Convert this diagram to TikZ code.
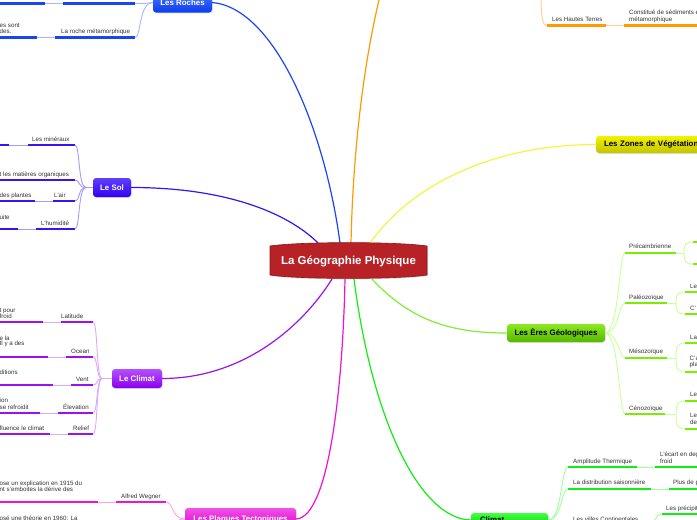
\documentclass[tikz,border=0pt]{standalone}
\usepackage{fontspec}
\setmainfont{Liberation Sans}
\usetikzlibrary{shadows}
\definecolor{txt}{HTML}{333333}
\definecolor{geoRed}{HTML}{B72227}
\definecolor{geoRedD}{HTML}{8E1418}
\definecolor{rochesA}{HTML}{4A78FF}
\definecolor{rochesB}{HTML}{0B3BEE}
\definecolor{rochesL}{HTML}{1A46F2}
\definecolor{rochesT}{HTML}{A3B8FF}
\definecolor{orng}{HTML}{FF9A00}
\definecolor{orngT}{HTML}{FFD08A}
\definecolor{yelA}{HTML}{F2F200}
\definecolor{yelB}{HTML}{C4C400}
\definecolor{yelL}{HTML}{F5F540}
\definecolor{solA}{HTML}{5E40FF}
\definecolor{solB}{HTML}{3300EE}
\definecolor{solL}{HTML}{3C12F4}
\definecolor{solT}{HTML}{A898FF}
\definecolor{cliA}{HTML}{B450FF}
\definecolor{cliB}{HTML}{8A00EE}
\definecolor{cliL}{HTML}{9A12F2}
\definecolor{cliT}{HTML}{D9A8FF}
\definecolor{plqA}{HTML}{F450E8}
\definecolor{plqB}{HTML}{D200C4}
\definecolor{plqL}{HTML}{EE12D6}
\definecolor{plqT}{HTML}{FFA0F0}
\definecolor{grnA}{HTML}{44FF44}
\definecolor{grnB}{HTML}{00D800}
\definecolor{grnL}{HTML}{11EE11}
\definecolor{grnT}{HTML}{A0FFA0}
\definecolor{erA}{HTML}{8CE820}
\definecolor{erB}{HTML}{55B800}
\definecolor{erL}{HTML}{7AEE00}
\definecolor{erM}{HTML}{80EE33}
\definecolor{erT}{HTML}{CCFF99}
\newcommand\seg[5]{\coordinate (#1a) at (#2,#4); \coordinate (#1b) at (#3,#4); \draw[#5] (#1a) -- (#1b);}
\tikzset{
  lbl/.style={font=\fontsize{6.2}{7}\selectfont, text=txt, inner sep=0pt, anchor=base west},
  ul/.style={line width=2.6pt},
  tn/.style={line width=0.9pt},
  br/.style={line width=1.2pt},
  box/.style={rounded corners=3pt, inner sep=0pt, font=\fontsize{7.9}{9}\selectfont\bfseries,
    drop shadow={shadow xshift=0.7pt, shadow yshift=-0.8pt, opacity=0.25}},
}
\begin{document}
\begin{tikzpicture}[x=1pt,y=-1pt]
\path[use as bounding box] (0,0) rectangle (697,520);
\clip (0,0) rectangle (697,520);
\fill[white] (0,0) rectangle (697,520);

% ---------- attach points on the central shape
\coordinate (geoS) at (318,243);
\coordinate (geoR) at (340,243);
\coordinate (geoO) at (351,243);
\coordinate (geoY) at (370,243);
\coordinate (geoC) at (332,279);
\coordinate (geoP) at (345,279);
\coordinate (geoG) at (354,279);
\coordinate (geoE) at (372,279);

% ---------- Les Roches
\node[box, minimum width=59pt, minimum height=20pt, top color=rochesA, bottom color=rochesB, text=white] (roches) at (182.5,2.5) {Les Roches};
\draw[br, rochesL] (roches.east) .. controls (275,8) and (325,130) .. (geoR);
\seg{ra1}{-5}{45}{3.5}{ul,rochesL}
\seg{ra2}{45}{63}{3.5}{tn,rochesT}
\seg{ra3}{63}{135}{3.5}{ul,rochesL}
\draw[tn,rochesT] (ra3b) .. controls (145,3.5) .. (roches.west);
\node[lbl] (rm) at (61,33) {La roche métamorphique};
\seg{rb1}{-5}{37}{37.5}{ul,rochesL}
\seg{rb2}{37}{55}{37.5}{tn,rochesT}
\seg{rb3}{55}{135}{37.5}{ul,rochesL}
\node[lbl] (rmg1) at (-0.5,27) {es sont};
\node[lbl] (rmg2) at (-0.5,33) {des.};
\draw[tn,rochesT] (rb3b) .. controls (141,37.5) and (139,2.5) .. (roches.west);

% ---------- Orange branch
\coordinate (oTop) at (384,-20);
\draw[br, orng] (geoO) .. controls (353,150) and (364,55) .. (oTop);
\node[lbl] (lht) at (552,21.5) {Les Hautes Terres};
\seg{oa1}{547}{606}{25.7}{ul,orng}
\seg{oa2}{606}{624}{25.7}{tn,orngT}
\seg{oa3}{624}{705}{25.7}{ul,orng}
\node[lbl] (oc1) at (629,14.5) {Constitué de sédiments e};
\node[lbl] (oc2) at (629,21.5) {métamorphique};
\coordinate (oUp) at (541,-5);
\draw[tn,orngT] (oa1a) .. controls (543,25.7) and (541,18) .. (oUp);

% ---------- Les Zones de Végétation
\node[box, minimum width=114pt, minimum height=17pt, top color=yelA, bottom color=yelB, text=black, text width=98pt, align=left] (zones) at (653,144.5) {Les Zones de Végétation};
\draw[br, yelL] (geoY) .. controls (415,180) and (500,144.5) .. (zones.west);

% ---------- Le Sol
\node[box, minimum width=38pt, minimum height=19pt, top color=solA, bottom color=solB, text=white] (sol) at (112,187.5) {Le Sol};
\draw[br, solL] (geoS) .. controls (290,215) and (230,187.5) .. (sol.east);
\coordinate (sJ) at (86,187.5);
\node[lbl] (s1) at (32,141.5) {Les minéraux};
\seg{s1k}{-5}{9}{145}{ul,solL}
\seg{s1t}{9}{28}{145}{tn,solT}
\seg{s1u}{28}{75}{145}{ul,solL}
\node[lbl] (s2) at (-0.5,176.5) {t les matières organiques};
\seg{s2u}{-5}{75}{180}{ul,solL}
\node[lbl] (s3) at (54,197.5) {L'air};
\node[lbl] (s3g) at (-0.5,197.5) {des plantes};
\seg{s3k}{-5}{35}{201}{ul,solL}
\seg{s3t}{35}{53}{201}{tn,solT}
\seg{s3u}{53}{75}{201}{ul,solL}
\node[lbl] (s4) at (41,225.5) {L'humidité};
\node[lbl] (s4g) at (-0.5,219.5) {uite};
\seg{s4k}{-5}{18}{229}{ul,solL}
\seg{s4t}{18}{36}{229}{tn,solT}
\seg{s4u}{36}{75}{229}{ul,solL}
\foreach \c/\y in {s1ub/145, s2ub/180, s3ub/201, s4ub/229}
  \draw[tn,solT] (\c) .. controls (80,\y) and (78,187.5) .. (sJ);
\draw[tn,solT] (sJ) -- (sol.west);

% ---------- Le Climat
\node[box, minimum width=50pt, minimum height=19pt, top color=cliA, bottom color=cliB, text=white] (clim) at (137,378.5) {Le Climat};
\draw[br, cliL] (geoC) .. controls (300,330) and (240,378.5) .. (clim.east);
\coordinate (cJ) at (102,378.5);
\node[lbl] (c1) at (61,318) {Latitude};
\node[lbl] (c1g1) at (-0.5,312) {t pour};
\node[lbl] (c1g2) at (-0.5,318) {froid};
\seg{c1k}{-5}{43}{322}{ul,cliL}
\seg{c1t}{43}{61}{322}{tn,cliT}
\seg{c1u}{61}{93}{322}{ul,cliL}
\node[lbl] (c2) at (71,353) {Ocean};
\node[lbl] (c2g1) at (-0.5,340) {e la};
\node[lbl] (c2g2) at (-0.5,345.5) {Il y a des};
\seg{c2k}{-5}{48}{357}{ul,cliL}
\seg{c2t}{48}{66}{357}{tn,cliT}
\seg{c2u}{66}{93}{357}{ul,cliL}
\node[lbl] (c3) at (76,381) {Vent};
\node[lbl] (c3g) at (-0.5,374) {ditions};
\seg{c3k}{-5}{53}{385}{ul,cliL}
\seg{c3t}{53}{71}{385}{tn,cliT}
\seg{c3u}{71}{93}{385}{ul,cliL}
\node[lbl] (c4) at (63,409) {Élevation};
\node[lbl] (c4g1) at (-0.5,402) {ion};
\node[lbl] (c4g2) at (-0.5,409.5) {se refroidit};
\seg{c4k}{-5}{40}{413}{ul,cliL}
\seg{c4t}{40}{58}{413}{tn,cliT}
\seg{c4u}{58}{93}{413}{ul,cliL}
\node[lbl] (c5) at (73,430) {Relief};
\node[lbl] (c5g) at (-0.5,430) {fluence le climat};
\seg{c5k}{-5}{50}{434}{ul,cliL}
\seg{c5t}{50}{68}{434}{tn,cliT}
\seg{c5u}{68}{93}{434}{ul,cliL}
\foreach \c/\y in {c1ub/322, c2ub/357, c3ub/385, c4ub/413, c5ub/434}
  \draw[tn,cliT] (\c) .. controls (98,\y) and (96,378.5) .. (cJ);
\draw[tn,cliT] (cJ) -- (clim.west);

% ---------- Les Plaques Tectoniques
\node[box, minimum width=111pt, minimum height=22pt, top color=plqA, bottom color=plqB, text=white] (plq) at (240.5,519) {Les Plaques Tectoniques};
\draw[br, plqL] (geoP) .. controls (343,380) and (330,517) .. (plq.east);
\node[lbl] (aw) at (121,498) {Alfred Wegner};
\node[lbl] (awg1) at (-0.5,485.5) {ose un explication en 1915 du};
\node[lbl] (awg2) at (-0.5,491.5) {nt s'emboites la dérive des};
\seg{pk}{-5}{98}{502}{ul,plqL}
\seg{pt}{98}{116}{502}{tn,plqT}
\seg{pu}{116}{166}{502}{ul,plqL}
\draw[tn,plqT] (pub) .. controls (173,502) and (172,519) .. (plq.west);
\node[lbl] (p2g) at (-0.5,520.5) {osé une théorie en 1960: La};
\coordinate (pDown) at (165,534);
\draw[tn,plqT] (plq.west) .. controls (176,519) and (172,525) .. (pDown);

% ---------- Climat (green)
\node[box, minimum width=77pt, minimum height=14pt, top color=grnA, bottom color=grnB, text=black, text width=59pt, align=left] (grn) at (509.5,520) {Climat};
\draw[br, grnL] (geoG) .. controls (372,420) and (420,519) .. (grn.west);
\node[lbl] (g1) at (573,463) {Amplitude Thermique};
\node[lbl] (g1g1) at (660,456.5) {L'écart en deg};
\node[lbl] (g1g2) at (660,463) {froid};
\seg{g1u}{568}{637}{467}{ul,grnL}
\seg{g1t}{637}{655}{467}{tn,grnT}
\seg{g1k}{655}{705}{467}{ul,grnL}
\node[lbl] (g2) at (573,484.5) {La distribution saisonnière};
\node[lbl] (g2g) at (673,484.5) {Plus de p};
\seg{g2u}{568}{651}{489}{ul,grnL}
\seg{g2t}{651}{669}{489}{tn,grnT}
\seg{g2k}{669}{705}{489}{ul,grnL}
\node[lbl] (g3) at (573,521) {Les villes Continentales};
\seg{g3u}{568}{648}{526}{ul,grnL}
\node[lbl] (g3g) at (666,510) {Les précipit};
\seg{g3k}{662}{705}{514}{ul,grnL}
\draw[tn,grnT] (g3ub) .. controls (656,526) and (654,514) .. (g3ka);
\foreach \c/\y in {g1ua/467, g2ua/489, g3ua/526}
  \draw[tn,grnT] (grn.east) .. controls (562,520) and (561,\y) .. (\c);

% ---------- Les Ères Géologiques
\node[box, minimum width=98pt, minimum height=18pt, top color=erA, bottom color=erB, text=black] (eres) at (556,333) {Les Ères Géologiques};
\draw[br, erM] (geoE) .. controls (410,320) and (450,333) .. (eres.west);
% Précambrienne
\node[lbl] (e1) at (629,248.5) {Précambrienne};
\seg{e1u}{625}{676}{253}{ul,erL}
\coordinate (e1J) at (684,253);
\seg{e1a}{693}{705}{242}{ul,erL}
\seg{e1b}{693}{705}{264}{ul,erL}
\draw[tn,erT] (e1ub) -- (e1J);
\draw[tn,erT] (e1J) .. controls (684,244) and (686,242) .. (e1aa);
\draw[tn,erT] (e1J) .. controls (684,262) and (686,264) .. (e1ba);
% Paléozoïque
\node[lbl] (e2) at (629,299.5) {Paléozoïque};
\seg{e2u}{625}{667}{303}{ul,erL}
\coordinate (e2J) at (676,303);
\seg{e2a}{685}{705}{292}{ul,erL}
\seg{e2b}{685}{705}{314}{ul,erL}
\node[lbl] (e2x) at (690,288.5) {Le};
\node[lbl] (e2y) at (690,310.5) {C'};
\draw[tn,erT] (e2ub) -- (e2J);
\draw[tn,erT] (e2J) .. controls (676,294) and (678,292) .. (e2aa);
\draw[tn,erT] (e2J) .. controls (676,312) and (678,314) .. (e2ba);
% Mésozoïque
\node[lbl] (e3) at (629,353.5) {Mésozoïque};
\seg{e3u}{625}{667}{358}{ul,erL}
\coordinate (e3J) at (676,358);
\seg{e3a}{685}{705}{343}{ul,erL}
\seg{e3b}{685}{705}{372}{ul,erL}
\node[lbl] (e3x) at (690,339.5) {La};
\node[lbl] (e3y) at (689.5,360) {C'a};
\node[lbl] (e3z) at (689.5,366) {pla};
\draw[tn,erT] (e3ub) -- (e3J);
\draw[tn,erT] (e3J) .. controls (676,346) and (678,343) .. (e3aa);
\draw[tn,erT] (e3J) .. controls (676,369) and (678,372) .. (e3ba);
% Cénozoïque
\node[lbl] (e4) at (629,410.5) {Cénozoïque};
\seg{e4u}{625}{665}{414}{ul,erL}
\coordinate (e4J) at (676,414);
\seg{e4a}{685}{705}{401}{ul,erL}
\seg{e4b}{685}{705}{429}{ul,erL}
\node[lbl] (e4x) at (690,396.5) {Le};
\node[lbl] (e4y) at (690,417.5) {Le};
\node[lbl] (e4z) at (690,424) {de};
\draw[tn,erT] (e4ub) -- (e4J);
\draw[tn,erT] (e4J) .. controls (676,404) and (678,401) .. (e4aa);
\draw[tn,erT] (e4J) .. controls (676,426) and (678,429) .. (e4ba);
% spine
\foreach \c/\y in {e1ua/253, e2ua/303, e3ua/358, e4ua/414}
  \draw[tn,erT] (eres.east) .. controls (619,333) and (619,\y) .. (\c);

% ---------- central node
\path[fill=geoRed, draw=geoRedD, line width=0.6pt, drop shadow={shadow xshift=0.8pt, shadow yshift=-1pt, opacity=0.3}]
  (270,246) .. controls (300,241.5) and (397,241.5) .. (427,246) -- (427,275)
  .. controls (397,279.5) and (300,279.5) .. (270,275) -- cycle;
\node[font=\fontsize{11.5}{13}\selectfont\bfseries, text=white] (geo) at (348.5,261.5) {La Géographie Physique};
\end{tikzpicture}
\end{document}
